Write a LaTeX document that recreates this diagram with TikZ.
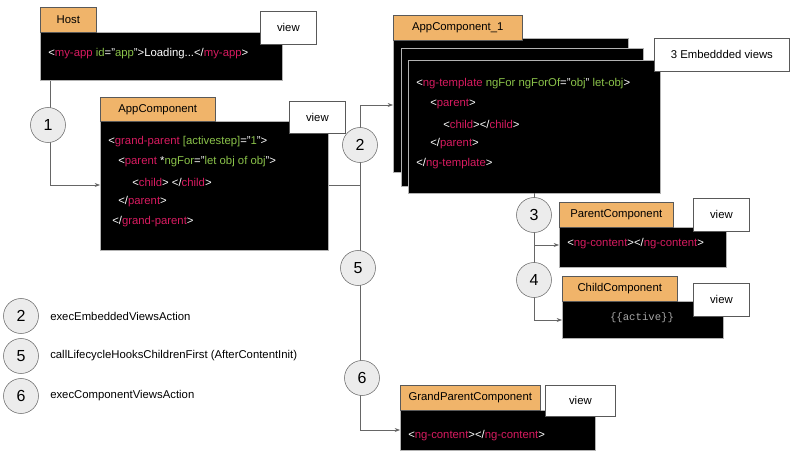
\documentclass[tikz,border=0pt]{standalone}
\usepackage{fontspec}
\setmainfont{Liberation Sans}
\newfontfamily\mono{Liberation Mono}
\usetikzlibrary{calc,arrows.meta}
\definecolor{tagc}{HTML}{D81B60}
\definecolor{attc}{HTML}{8BC34A}
\definecolor{orng}{HTML}{F0B46A}
\newcommand{\tg}[1]{\textcolor{tagc}{#1}}
\newcommand{\at}[1]{\textcolor{attc}{#1}}
\begin{document}
\begin{tikzpicture}[x=0.75pt,y=-0.75pt,font=\fontsize{8.5}{10}\selectfont,
  lab/.style={draw=gray!70!black,fill=orng,anchor=north west,inner sep=0pt,line width=0.4pt},
  blk/.style={draw=gray!60,fill=black,anchor=north west,inner sep=0pt,line width=0.4pt},
  vw/.style={draw=gray!70!black,fill=white,anchor=north west,inner sep=0pt,line width=0.6pt},
  code/.style={text=white,anchor=west,inner sep=0pt},
  num/.style={circle,draw=gray!80!black,fill=gray!15,minimum size=35*0.75pt,inner sep=0pt,font=\fontsize{12}{14}\selectfont},
  con/.style={draw=gray!80!black,line width=0.5pt},
  arr/.style={con,-{Stealth[length=4pt,width=3pt]}}]
\useasboundingbox (0,0) rectangle (800,456);
% Host
\node[blk,minimum width=242*0.75pt,minimum height=48*0.75pt] (hostb) at (40,32) {};
\node[lab,minimum width=56*0.75pt,minimum height=25*0.75pt] (hostl) at (40,7) {Host};
\node[vw,minimum width=56*0.75pt,minimum height=33*0.75pt] (hostv) at (260,11) {view};
\node[code] (h1) at (48,54) {<\tg{my-app} \at{id}="\at{app}">Loading...</\tg{my-app}>};
% AppComponent
\node[blk,minimum width=228*0.75pt,minimum height=129*0.75pt] (appb) at (100,121) {};
\node[lab,minimum width=115*0.75pt,minimum height=24*0.75pt] (appl) at (100,97) {AppComponent};
\node[vw,minimum width=56*0.75pt,minimum height=32*0.75pt] (appv) at (289,101) {view};
\node[code] (a1) at (108,142) {<\tg{grand-parent} \at{[activestep]}="\at{1}">};
\node[code] (a2) at (118,162) {<\tg{parent} *\at{ngFor}="\at{let obj of obj}">};
\node[code] (a3) at (132,182) {<\tg{child}> </\tg{child}>};
\node[code] (a4) at (118,202) {</\tg{parent}>};
\node[code] (a5) at (112,222) {</\tg{grand-parent}>};
% AppComponent_1
\node[blk,minimum width=235*0.75pt,minimum height=134*0.75pt] (e3) at (393,38) {};
\node[blk,minimum width=242*0.75pt,minimum height=138*0.75pt] (e2) at (401,48) {};
\node[blk,minimum width=252*0.75pt,minimum height=133*0.75pt] (e1) at (408,60) {};
\node[lab,minimum width=129*0.75pt,minimum height=25*0.75pt] (e1l) at (393,15) {AppComponent\_1};
\node[vw,minimum width=135*0.75pt,minimum height=33*0.75pt] (e1v) at (654,38) {3 Embeddded views};
\node[code] (t1) at (416,84) {<\tg{ng-template} \at{ngFor ngForOf}="\at{obj}" \at{let-obj}>};
\node[code] (t2) at (430,104) {<\tg{parent}>};
\node[code] (t3) at (443,124) {<\tg{child}></\tg{child}>};
\node[code] (t4) at (430,144) {</\tg{parent}>};
\node[code] (t5) at (416,164) {</\tg{ng-template}>};
% ParentComponent
\node[blk,minimum width=167*0.75pt,minimum height=40*0.75pt] (pb) at (559,227) {};
\node[lab,minimum width=114*0.75pt,minimum height=25*0.75pt] (pl) at (559,202) {ParentComponent};
\node[vw,minimum width=56*0.75pt,minimum height=33*0.75pt] (pv) at (693,198) {view};
\node[code] (p1) at (567,244) {<\tg{ng-content}></\tg{ng-content}>};
% ChildComponent
\node[blk,minimum width=161*0.75pt,minimum height=37*0.75pt] (cb) at (562,301) {};
\node[lab,minimum width=115*0.75pt,minimum height=25*0.75pt] (cl) at (562,276) {ChildComponent};
\node[vw,minimum width=56*0.75pt,minimum height=33*0.75pt] (cv) at (693,283) {view};
\node[text=gray!70,inner sep=0pt,font=\mono\fontsize{8}{10}\selectfont] (c1) at (642,318) {\{\{active\}\}};
% GrandParent
\node[blk,minimum width=195*0.75pt,minimum height=40*0.75pt] (gb) at (400,410) {};
\node[lab,minimum width=140*0.75pt,minimum height=25*0.75pt] (gl) at (400,385) {GrandParentComponent};
\node[vw,minimum width=70*0.75pt,minimum height=31*0.75pt] (gv) at (545,385) {view};
\node[code] (g1) at (408,436) {<\tg{ng-content}></\tg{ng-content}>};
% connectors
\coordinate (j1) at (50,185);
\coordinate (j2) at (360,185);
\coordinate (j2t) at (360,105);
\coordinate (j2b) at (360,430);
\coordinate (j3) at (534,193);
\coordinate (j3a) at (534,245);
\coordinate (j3b) at (534,320);
\draw[arr] (hostb.south west -| j1) -- (j1) -- (j1 -| appb.west);
\draw[con] (appb.east |- j2) -- (j2);
\draw[arr] (j2) -- (j2t) -- (j2t -| e3.west);
\draw[arr] (j2) -- (j2b) -- (j2b -| gb.west);
\draw[arr] (j3) -- (j3a) -- (j3a -| pb.west);
\draw[arr] (j3a) -- (j3b) -- (j3b -| cb.west);
% step circles
\node[num] (n1) at (48,125) {1};
\node[num] (n2) at (360,145) {2};
\node[num] (n5) at (358,268) {5};
\node[num] (n6) at (362,378) {6};
\node[num] (n3) at (534,215) {3};
\node[num] (n4) at (534,280) {4};
% legend
\node[num] (l2) at (21,316) {2};
\node[num] (l5) at (21,356) {5};
\node[num] (l6) at (21,396) {6};
\node[anchor=west,inner sep=0pt] (lt2) at (50,316) {execEmbeddedViewsAction};
\node[anchor=west,inner sep=0pt] (lt5) at (50,356) {callLifecycleHooksChildrenFirst (AfterContentInit)};
\node[anchor=west,inner sep=0pt] (lt6) at (50,396) {execComponentViewsAction};
\end{tikzpicture}
\end{document}
